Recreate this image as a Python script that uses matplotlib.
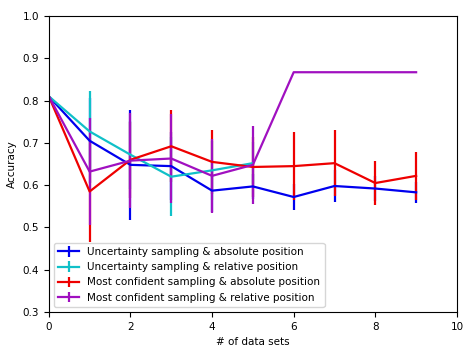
import matplotlib
matplotlib.use('Agg')
import matplotlib.pyplot as plt

plt.rcParams['font.size'] = 7.5

x_all = [0, 1, 2, 3, 4, 5, 6, 7, 8, 9]
x_short = [0, 1, 2, 3, 4, 5]

unc_abs = [0.81, 0.705, 0.648, 0.645, 0.587, 0.597, 0.572, 0.598, 0.592, 0.583]
unc_abs_err = [0.0, 0.10, 0.13, 0.08, 0.05, 0.03, 0.03, 0.037, 0.03, 0.025]

unc_rel = [0.81, 0.727, 0.672, 0.62, 0.635, 0.652]
unc_rel_err = [0.0, 0.095, 0.08, 0.093, 0.07, 0.05]

mc_abs = [0.81, 0.585, 0.66, 0.692, 0.655, 0.643, 0.645, 0.652, 0.605, 0.622]
mc_abs_err = [0.0, 0.12, 0.09, 0.085, 0.075, 0.07, 0.08, 0.078, 0.052, 0.057]

mc_rel = [0.81, 0.632, 0.658, 0.663, 0.622, 0.648, 0.867, 0.867, 0.867, 0.867]
mc_rel_err = [0.0, 0.127, 0.112, 0.105, 0.088, 0.092, 0.0, 0.0, 0.0, 0.0]

labels = ['Uncertainty sampling & absolute position',
          'Uncertainty sampling & relative position',
          'Most confident sampling & absolute position',
          'Most confident sampling & relative position']

fig = plt.figure(figsize=(4.74, 3.55), dpi=100)
ax = fig.add_axes([0.103, 0.121, 0.861, 0.834])

ax.errorbar(x_all, unc_abs, yerr=unc_abs_err, color='#0000ee', lw=1.6, label=labels[0])
ax.errorbar(x_short, unc_rel, yerr=unc_rel_err, color='#10c0c8', lw=1.6, label=labels[1])
ax.errorbar(x_all, mc_abs, yerr=mc_abs_err, color='#ee0000', lw=1.6, label=labels[2])
ax.errorbar(x_all, mc_rel, yerr=mc_rel_err, color='#a010c0', lw=1.6, label=labels[3])

ax.set_xlim(0, 10)
ax.set_ylim(0.3, 1.0)
ax.set_xlabel('# of data sets')
ax.set_ylabel('Accuracy')
ax.legend(loc='lower left', fontsize=7.5)

fig.savefig('out.png', dpi=100)
